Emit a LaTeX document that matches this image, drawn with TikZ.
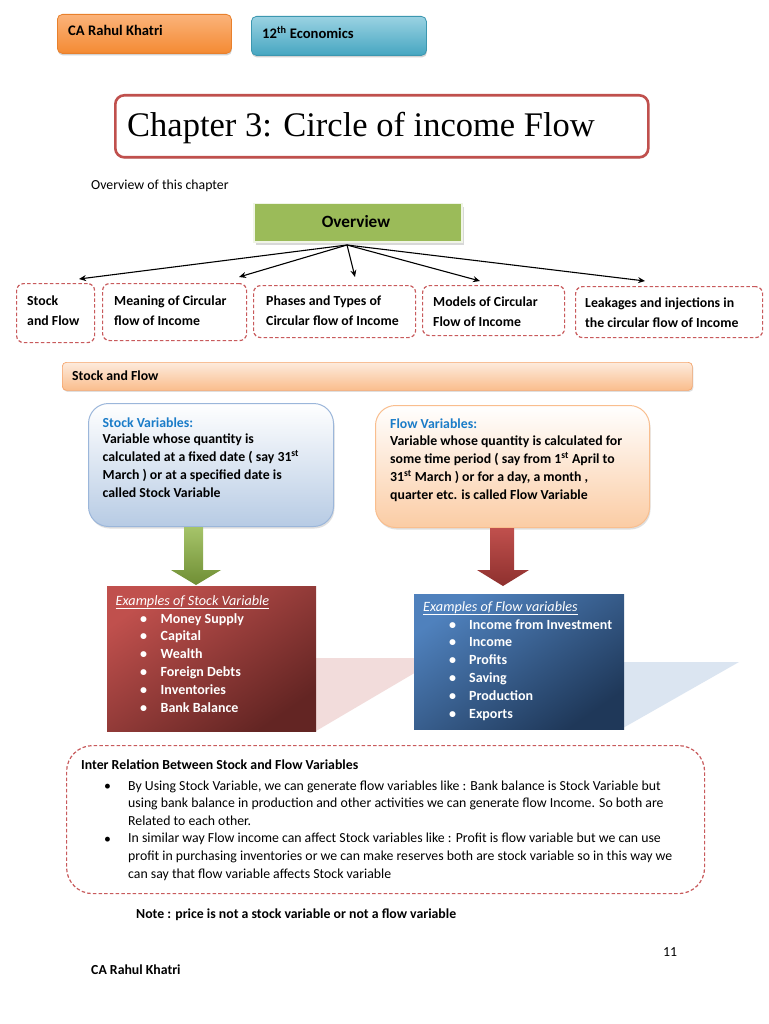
\documentclass[tikz,border=0pt]{standalone}
\usepackage{fontspec}
\setmainfont{Carlito}
\newfontfamily\titlefont{Liberation Serif}
\usetikzlibrary{shadows,arrows.meta,calc}
\definecolor{orA}{HTML}{FBB37A}
\definecolor{orB}{HTML}{F48A33}
\definecolor{orD}{HTML}{E8802C}
\definecolor{blA}{HTML}{9AD2E2}
\definecolor{blB}{HTML}{46A6C1}
\definecolor{blD}{HTML}{3C97B0}
\definecolor{titlered}{HTML}{C0504D}
\definecolor{ovgreen}{HTML}{9BBB59}
\definecolor{dashred}{HTML}{C85A5C}
\definecolor{barA}{HTML}{FDEBDD}
\definecolor{barB}{HTML}{FABD8C}
\definecolor{barD}{HTML}{F6A46A}
\definecolor{svA}{HTML}{FFFFFF}
\definecolor{svB}{HTML}{B7CBE4}
\definecolor{svD}{HTML}{9BB6DA}
\definecolor{fvB}{HTML}{FBCCA4}
\definecolor{fvD}{HTML}{F9BE8E}
\definecolor{svblue}{HTML}{1A7CC8}
\definecolor{grA}{HTML}{A6C46A}
\definecolor{grB}{HTML}{6F8E34}
\definecolor{rdA}{HTML}{C0504D}
\definecolor{rdB}{HTML}{8E302E}
\definecolor{exrA}{HTML}{C0504D}
\definecolor{exrB}{HTML}{632523}
\definecolor{exbA}{HTML}{4F81BD}
\definecolor{exbB}{HTML}{1F3859}
\definecolor{pinkref}{HTML}{F2DCDB}
\definecolor{blueref}{HTML}{DBE5F1}
\tikzset{
  bt/.style={inner sep=0pt, anchor=base west, align=left, font=\bfseries\fontsize{13.8}{17.7}\selectfont},
  rt/.style={inner sep=0pt, anchor=base west, align=left, font=\fontsize{13.8}{17.6}\selectfont},
  wt/.style={bt, text=white, font=\bfseries\fontsize{14}{17.8}\selectfont},
  hdrbox/.style={anchor=north west, inner sep=0pt, rounded corners=5pt, line width=0.8pt,
     drop shadow={shadow xshift=0.5pt, shadow yshift=-2pt, opacity=.35}},
  dbox/.style={anchor=north west, draw=dashred, dash pattern=on 3.5pt off 2.2pt, line width=1.2pt,
     rounded corners=7pt, inner sep=0pt},
  dtext/.style={inner sep=0pt, anchor=base west, align=left, font=\bfseries\fontsize{13.8}{20}\selectfont},
  ovarrow/.style={-{Stealth[length=7pt,width=6pt]}, line width=1.1pt, black},
  exbox/.style={anchor=north west, inner sep=0pt},
}
\begin{document}
\begin{tikzpicture}[x=1pt,y=-1pt]
\useasboundingbox (0,0) rectangle (768,1024);
\fill[white] (0,0) rectangle (768,1024);

% header boxes
\node[hdrbox, top color=orA, bottom color=orB, draw=orD, minimum width=174pt, minimum height=39pt] (ca) at (57,14) {};
\node[bt, font=\bfseries\fontsize{14.6}{17}\selectfont] (catext) at (68,36) {CA Rahul Khatri};
\node[hdrbox, top color=blA, bottom color=blB, draw=blD, minimum width=175pt, minimum height=39pt] (ec) at (251,16) {};
\node[bt, font=\bfseries\fontsize{14.6}{17}\selectfont] (ectext) at (262,38.5) {12\textsuperscript{th} Economics};

% title
\node[anchor=north west, draw=titlered, line width=2.6pt, rounded corners=9pt, minimum width=533pt, minimum height=62pt, inner sep=0pt,
  drop shadow={shadow xshift=0.5pt, shadow yshift=-1.5pt, opacity=.2}, fill=white] (title) at (114,94) {};
\node[inner sep=0pt, anchor=base west, font=\titlefont\fontsize{34.5}{40}\selectfont] (titletext) at (127,137) {Chapter 3: Circle of income Flow};

\node[rt] (ovlabel) at (91,190) {Overview of this chapter};

% overview
\node[anchor=north west, fill=ovgreen, draw=white!85!ovgreen, line width=1.5pt, minimum width=208pt, minimum height=38pt, inner sep=0pt,
  drop shadow={shadow xshift=2pt, shadow yshift=-3pt, opacity=.3}] (ov) at (253,203) {};
\node[inner sep=0pt, font=\bfseries\fontsize{17.2}{19}\selectfont] (ovtext) at (356,221.5) {Overview};
\coordinate (oc) at (347,245);

% dashed topic boxes
\node[dbox, minimum width=78pt, minimum height=59pt] (b1) at (16,283) {};
\node[dbox, minimum width=144pt, minimum height=57pt] (b2) at (102,283) {};
\node[dbox, minimum width=162pt, minimum height=52pt] (b3) at (253,285) {};
\node[dbox, minimum width=142pt, minimum height=50pt] (b4) at (422,285) {};
\node[dbox, minimum width=187pt, minimum height=51pt] (b5) at (575,286) {};
\node[dtext] (b1t) at (27,325) {Stock\\and Flow};
\node[dtext] (b2t) at (114,325) {Meaning of Circular\\flow of Income};
\node[dtext] (b3t) at (266,325) {Phases and Types of\\Circular flow of Income};
\node[dtext] (b4t) at (433,326) {Models of Circular\\Flow of Income};
\node[dtext] (b5t) at (585,327) {Leakages and injections in\\the circular flow of Income};

\draw[ovarrow] (oc) -- ($(b1.north west)+(63,-4)$);
\draw[ovarrow] (oc) -- ($(b2.north west)+(137,-6)$);
\draw[ovarrow] (oc) -- ($(b3.north west)+(102,-8)$);
\draw[ovarrow] (oc) -- ($(b4.north west)+(58,-4)$);
\draw[ovarrow] (oc) -- ($(b5.north west)+(70,-5)$);

% stock and flow bar
\node[anchor=north west, top color=barA, bottom color=barB, draw=barD, line width=0.7pt, rounded corners=4pt,
  minimum width=630pt, minimum height=28pt, inner sep=0pt,
  drop shadow={shadow xshift=1pt, shadow yshift=-1.5pt, opacity=.25}] (bar) at (62,362) {};
\node[bt] (bartext) at (72,380) {Stock and Flow};

% stock / flow variable boxes
\node[anchor=north west, top color=svA, bottom color=svB, draw=svD, line width=1pt, rounded corners=20pt,
  minimum width=245pt, minimum height=123pt, inner sep=0pt,
  drop shadow={shadow xshift=1pt, shadow yshift=-2pt, opacity=.25}] (sv) at (88,403) {};
\node[bt, text=svblue] (svhead) at (102.5,427.5) {Stock Variables:};
\node[bt] (svbody) at (102.5,497) {Variable whose quantity is\\calculated at a fixed date ( say 31\textsuperscript{st}\\March ) or at a specified date is\\called Stock Variable};

\node[anchor=north west, top color=svA, bottom color=fvB, draw=fvD, line width=1pt, rounded corners=20pt,
  minimum width=274pt, minimum height=122pt, inner sep=0pt,
  drop shadow={shadow xshift=1pt, shadow yshift=-2pt, opacity=.25}] (fv) at (375,405) {};
\node[bt, text=svblue] (fvhead) at (390,428.5) {Flow Variables:};
\node[bt] (fvbody) at (390,499) {Variable whose quantity is calculated for\\some time period ( say from 1\textsuperscript{st} April to\\31\textsuperscript{st} March ) or for a day, a month ,\\quarter etc. is called Flow Variable};

% down arrows (stock box to examples, flow box to examples)
\shade[top color=grA, bottom color=grB] (184,527) -- (203,527) -- (203,570) -- (221,570) -- (196,585) -- (171,570) -- (184,570) -- cycle;
\shade[top color=rdA, bottom color=rdB] (490,528) -- (514,528) -- (514,570) -- (529,570) -- (503,586) -- (477,570) -- (490,570) -- cycle;

% reflections
\fill[pinkref] (316,658) -- (440,658) -- (316,731) -- cycle;
\fill[blueref] (623,662) -- (739,662) -- (623,728) -- cycle;

% examples boxes
\node[exbox, top color=exrA, bottom color=exrB, shading angle=35, minimum width=209pt, minimum height=145pt] (exs) at (107,586) {};
\node[wt, font=\itshape\fontsize{14.2}{16}\selectfont] (exshead) at (115.5,605) {\underline{Examples of Stock Variable}};
\node[wt] (exsbul) at (140,712) {•\\•\\•\\•\\•\\•};
\node[wt] (exsitems) at (160.5,712) {Money Supply\\Capital\\Wealth\\Foreign Debts\\Inventories\\Bank Balance};

\node[exbox, top color=exbA, bottom color=exbB, shading angle=35, minimum width=210pt, minimum height=135pt] (exf) at (414,594) {};
\node[wt, font=\itshape\fontsize{14.2}{16}\selectfont] (exfhead) at (423,611) {\underline{Examples of Flow variables}};
\node[wt] (exfbul) at (449,718) {•\\•\\•\\•\\•\\•};
\node[wt] (exfitems) at (469,718) {Income from Investment\\Income\\Profits\\Saving\\Production\\Exports};

% inter relation box
\node[anchor=north west, draw=dashred, dash pattern=on 3.5pt off 2.2pt, line width=1.2pt, rounded corners=26pt,
  minimum width=638pt, minimum height=148pt, inner sep=0pt] (ir) at (66,745) {};
\node[bt] (irhead) at (81,769) {Inter Relation Between Stock and Flow Variables};
\node[rt] (irb1) at (104,790) {•};
\node[rt] (irb2) at (104,843) {•};
\node[rt] (irbody) at (128,878) {By Using Stock Variable, we can generate flow variables like : Bank balance is Stock Variable but\\using bank balance in production and other activities we can generate flow Income. So both are\\Related to each other.\\In similar way Flow income can affect Stock variables like : Profit is flow variable but we can use\\profit in purchasing inventories or we can make reserves both are stock variable so in this way we\\can say that flow variable affects Stock variable};

\node[bt] (note) at (136,918) {Note : price is not a stock variable or not a flow variable};
\node[rt] (pageno) at (663,956) {11};
\node[bt] (footer) at (91,974) {CA Rahul Khatri};
\end{tikzpicture}
\end{document}
